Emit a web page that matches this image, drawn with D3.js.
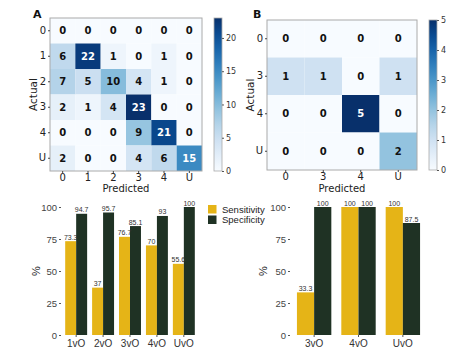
<!DOCTYPE html>
<html>
<head>
<meta charset="utf-8">
<script src="https://cdn.jsdelivr.net/npm/d3@7"></script>
<style>
  body { margin: 0; background: #fff; }
  svg { display: block; }
  .hm text { font-family: "DejaVu Sans", sans-serif; }
  .bars text { font-family: "Liberation Sans", Arial, sans-serif; }
</style>
</head>
<body>
<div id="chart"></div>
<script>
// confusion matrix A
let labelsA = ["0", "1", "2", "3", "4", "U"];
let matrixA = [
  [0, 0, 0, 0, 0, 0],
  [6, 22, 1, 0, 1, 0],
  [7, 5, 10, 4, 1, 0],
  [2, 1, 4, 23, 0, 0],
  [0, 0, 0, 9, 21, 0],
  [2, 0, 0, 4, 6, 15]
];
let cbarTicksA = [0, 5, 10, 15, 20];

// confusion matrix B
let labelsB = ["0", "3", "4", "U"];
let matrixB = [
  [0, 0, 0, 0],
  [1, 1, 0, 1],
  [0, 0, 5, 0],
  [0, 0, 0, 2]
];
let cbarTicksB = [0, 1, 2, 3, 4, 5];

// sensitivity / specificity bars
let groupsA = ["1vO", "2vO", "3vO", "4vO", "UvO"];
let sensA = [73.3, 37, 76.7, 70, 55.6];
let specA = [94.7, 95.7, 85.1, 93, 100];

let groupsB = ["3vO", "4vO", "UvO"];
let sensB = [33.3, 100, 100];
let specB = [100, 100, 87.5];

let measures = ["Sensitivity", "Specificity"];
let barTicks = [0, 25, 50, 75, 100];

let measureColor = d3.scaleOrdinal().domain(measures).range(["#E5B417", "#1F3224"]);

let svg = d3.select("#chart").append("svg")
  .attr("width", 474)
  .attr("height", 353);

svg.append("rect").attr("width", 474).attr("height", 353).attr("fill", "#fff");

function heatmap(opts) {
  let g = svg.append("g").attr("class", "hm");
  let labels = opts.labels, matrix = opts.matrix;
  let x = d3.scaleBand().domain(labels).range([opts.x0, opts.x1]);
  let y = d3.scaleBand().domain(labels).range([opts.y0, opts.y1]);
  let vmax = opts.vmax;
  let color = d3.scaleSequential(d3.interpolateBlues).domain([0, vmax]);

  let cells = [];
  matrix.forEach((row, i) => row.forEach((v, j) => cells.push({ r: labels[i], c: labels[j], v: v })));

  g.selectAll("rect.cell").data(cells).enter().append("rect")
    .attr("class", "cell")
    .attr("x", d => x(d.c))
    .attr("y", d => y(d.r))
    .attr("width", x.bandwidth())
    .attr("height", y.bandwidth())
    .attr("fill", d => color(d.v));

  g.selectAll("text.val").data(cells).enter().append("text")
    .attr("class", "val")
    .attr("x", d => x(d.c) + x.bandwidth() / 2)
    .attr("y", d => y(d.r) + y.bandwidth() / 2)
    .attr("dy", "0.36em")
    .attr("text-anchor", "middle")
    .attr("font-weight", "bold")
    .attr("font-size", 10)
    .attr("fill", d => d.v > vmax * 0.5 ? "#fff" : "#111")
    .text(d => d.v);

  g.append("rect")
    .attr("x", opts.x0).attr("y", opts.y0)
    .attr("width", opts.x1 - opts.x0).attr("height", opts.y1 - opts.y0)
    .attr("fill", "none").attr("stroke", "#aaa").attr("stroke-width", 1);

  let ax = g.append("g").attr("transform", `translate(0,${opts.y1})`)
    .call(d3.axisBottom(x).tickSize(2).tickPadding(1));
  let ay = g.append("g").attr("transform", `translate(${opts.x0},0)`)
    .call(d3.axisLeft(y).tickSize(2).tickPadding(2));
  [ax, ay].forEach(a => {
    a.select(".domain").remove();
    a.selectAll("line").attr("stroke", "#444");
    a.selectAll("text").attr("font-size", 10).attr("fill", "#222")
      .attr("font-family", "DejaVu Sans, sans-serif");
  });

  g.append("text")
    .attr("x", (opts.x0 + opts.x1) / 2).attr("y", 192)
    .attr("text-anchor", "middle").attr("font-size", 10).attr("fill", "#222")
    .text("Predicted");
  g.append("text")
    .attr("transform", `translate(${opts.actualX},${(opts.y0 + opts.y1) / 2}) rotate(-90)`)
    .attr("text-anchor", "middle").attr("dy", "0.35em")
    .attr("font-size", 10.5).attr("fill", "#222")
    .text("Actual");
  g.append("text")
    .attr("x", opts.letterX).attr("y", 18)
    .attr("font-weight", "bold").attr("font-size", 11).attr("fill", "#111")
    .text(opts.letter);

  // colour bar
  let gid = "grad" + opts.letter;
  let grad = svg.append("defs").append("linearGradient")
    .attr("id", gid).attr("x1", 0).attr("y1", 1).attr("x2", 0).attr("y2", 0);
  d3.range(0, 1.0001, 0.1).forEach(t => {
    grad.append("stop").attr("offset", t).attr("stop-color", color(t * vmax));
  });
  g.append("rect")
    .attr("x", opts.cbX).attr("y", opts.y0)
    .attr("width", 8).attr("height", opts.y1 - opts.y0)
    .attr("fill", `url(#${gid})`).attr("stroke", "#aaa").attr("stroke-width", 0.8);
  let cb = d3.scaleLinear().domain([0, vmax]).range([opts.y1, opts.y0]);
  let ac = g.append("g").attr("transform", `translate(${opts.cbX + 8},0)`)
    .call(d3.axisRight(cb).tickValues(opts.cbTicks).tickFormat(d3.format("d")).tickSize(2).tickPadding(2));
  ac.select(".domain").remove();
  ac.selectAll("line").attr("stroke", "#555");
  ac.selectAll("text").attr("font-size", 8).attr("fill", "#333")
    .attr("font-family", "DejaVu Sans, sans-serif");
}

heatmap({
  letter: "A", letterX: 33, labels: labelsA, matrix: matrixA, vmax: 23,
  x0: 50, x1: 202, y0: 18, y1: 171, cbX: 214, cbTicks: cbarTicksA, actualX: 33
});
heatmap({
  letter: "B", letterX: 253, labels: labelsB, matrix: matrixB, vmax: 5,
  x0: 267, x1: 417, y0: 20, y1: 170, cbX: 429, cbTicks: cbarTicksB, actualX: 250
});

function barChart(groups, sens, spec, range, axisX, pctX) {
  let g = svg.append("g").attr("class", "bars");
  let x0 = d3.scaleBand().domain(groups).range(range).paddingInner(range[2]).paddingOuter(0.1);
  let x1 = d3.scaleBand().domain(measures).range([0, x0.bandwidth()]);
  let y = d3.scaleLinear().domain([0, 100]).range([335, 207]);

  let rows = groups.map((grp, i) => ({ grp: grp, vals: [
    { m: "Sensitivity", v: sens[i] }, { m: "Specificity", v: spec[i] }
  ] }));

  let grp = g.selectAll("g.grp").data(rows).enter().append("g")
    .attr("transform", d => `translate(${x0(d.grp)},0)`);
  grp.selectAll("rect").data(d => d.vals).enter().append("rect")
    .attr("x", d => x1(d.m))
    .attr("y", d => y(d.v))
    .attr("width", x1.bandwidth())
    .attr("height", d => y(0) - y(d.v))
    .attr("fill", d => measureColor(d.m));
  grp.selectAll("text").data(d => d.vals).enter().append("text")
    .attr("x", d => x1(d.m) + x1.bandwidth() / 2)
    .attr("y", d => y(d.v) - 1.5)
    .attr("text-anchor", "middle")
    .attr("font-size", 7).attr("fill", "#333")
    .text(d => d.v);

  let ay = g.append("g").attr("transform", `translate(${axisX},0)`)
    .call(d3.axisLeft(y).tickValues(barTicks).tickSize(2).tickPadding(2));
  ay.select(".domain").remove();
  ay.selectAll("line").attr("stroke", "#555");
  ay.selectAll("text").attr("font-size", 9.5).attr("fill", "#444")
    .attr("font-family", "Liberation Sans, Arial, sans-serif");

  let ax = g.append("g").attr("transform", "translate(0,335)")
    .call(d3.axisBottom(x0).tickSize(2).tickPadding(3));
  ax.select(".domain").remove();
  ax.selectAll("line").attr("stroke", "#555");
  ax.selectAll("text").attr("font-size", 10).attr("fill", "#333")
    .attr("font-family", "Liberation Sans, Arial, sans-serif");

  g.append("text")
    .attr("transform", `translate(${pctX},271) rotate(-90)`)
    .attr("text-anchor", "middle").attr("dy", "0.35em")
    .attr("font-size", 11).attr("fill", "#222")
    .text("%");
}

barChart(groupsA, sensA, specA, [62.5, 197.5, 0.185], 61, 36);
barChart(groupsB, sensB, specB, [292.5, 424.5, 0.225], 290, 263);

// legend
let leg = svg.append("g").attr("class", "bars").attr("transform", "translate(208,205)");
measures.forEach((m, i) => {
  leg.append("rect").attr("x", 0).attr("y", i * 10.5).attr("width", 8.5).attr("height", 8.5)
    .attr("fill", measureColor(m));
  leg.append("text").attr("x", 14).attr("y", i * 10.5 + 4.5).attr("dy", "0.35em")
    .attr("font-size", 9.5).attr("fill", "#222").text(m);
});
</script>
</body>
</html>
